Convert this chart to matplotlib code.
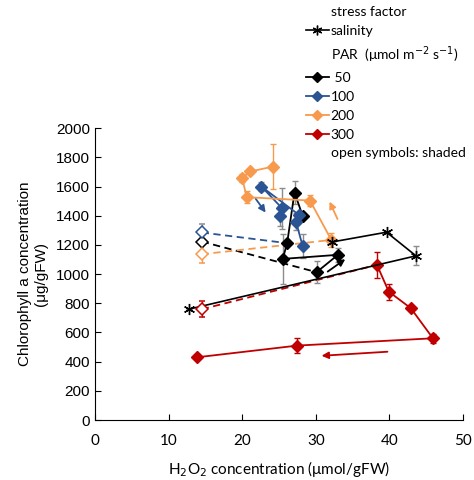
import matplotlib.pyplot as plt
from matplotlib.lines import Line2D
import numpy as np

# salinity (black, asterisk markers)
sal_x = [32.2, 39.6, 43.6, 12.8]
sal_y = [1220, 1287, 1125, 760]
sal_err = [0, 0, 65, 0]

# PAR 50 (black)
p50_x = [28.2, 27.1, 26.1, 25.5, 33.0, 30.1]
p50_y = [1400, 1559, 1212, 1104, 1132, 1013]
p50_err = [0, 80, 0, 170, 50, 75]
p50_open = (14.5, 1223, 0)

# PAR 100 (blue)
p100_x = [25.1, 25.4, 22.6, 27.7, 27.3, 28.2]
p100_y = [1399, 1452, 1600, 1406, 1360, 1193]
p100_err = [70, 140, 30, 0, 60, 80]
p100_open = (14.5, 1285, 55)
p100_dash_end = (26.1, 1212)

# PAR 200 (orange)
p200_x = [24.2, 21.1, 20.0, 20.6, 29.2, 32.1]
p200_y = [1737, 1703, 1658, 1527, 1504, 1234]
p200_err = [155, 0, 30, 40, 40, 50]
p200_open = (14.5, 1136, 60)

# PAR 300 (red)
p300_x = [38.3, 39.9, 42.9, 45.9, 27.5, 13.9]
p300_y = [1063, 880, 766, 560, 510, 430]
p300_err = [90, 55, 0, 30, 50, 0]
p300_open = (14.5, 759, 55)

# arrows: (x_start, y_start, x_end, y_end)
arrows = {
    'black': (31.3, 1006, 34.3, 1113),
    'blue': (21.6, 1532, 23.4, 1406),
    'orange': (33.1, 1360, 31.7, 1514),
    'red': (40.1, 469, 30.4, 439),
}

c_black = '#000000'
c_blue = '#2A5494'
c_orange = '#F79A4E'
c_red = '#C00000'
c_grey = '#8C8C8C'

plt.rcParams['font.family'] = ['Liberation Sans', 'DejaVu Sans']

fig = plt.figure(figsize=(4.74, 4.8), dpi=100)
ax = fig.add_axes([0.2004, 0.125, 0.7766, 0.608])


def draw_series(xs, ys, errs, color, ecolor, open_pt, dash_end=None):
    ax.errorbar(xs, ys, yerr=errs, color=color, ecolor=ecolor, marker='D',
                ms=6, lw=1.3, capsize=2.5, elinewidth=1, zorder=3)
    ox, oy, oe = open_pt
    ex, ey = dash_end if dash_end else (xs[-1], ys[-1])
    if open_pt is p300_open:
        ex, ey = xs[0], ys[0]
    ax.plot([ox, ex], [oy, ey], ls=(0, (4, 2.5)), color=color, lw=1.3, zorder=2)
    ax.errorbar([ox], [oy], yerr=[oe], color=color, ecolor=ecolor, marker='D',
                ms=6, mfc='white', mec=color, mew=1.1, capsize=2.5,
                elinewidth=1, ls='none', zorder=4)


draw_series(p50_x, p50_y, p50_err, c_black, c_grey, p50_open)
draw_series(p100_x, p100_y, p100_err, c_blue, c_grey, p100_open, p100_dash_end)
draw_series(p200_x, p200_y, p200_err, c_orange, c_orange, p200_open)
draw_series(p300_x, p300_y, p300_err, c_red, c_red, p300_open)

ax.errorbar(sal_x, sal_y, yerr=sal_err, color=c_black, ecolor=c_grey,
            marker=(6, 2, 0), ms=8, mew=1.0, lw=1.2, capsize=2.5,
            elinewidth=1, zorder=3)

for name, (x0, y0, x1, y1) in arrows.items():
    col = {'black': c_black, 'blue': c_blue, 'orange': c_orange, 'red': c_red}[name]
    ax.annotate('', xy=(x1, y1), xytext=(x0, y0),
                arrowprops=dict(arrowstyle='-|>', color=col, lw=1.3,
                                mutation_scale=10))

ax.set_xlim(0, 50)
ax.set_ylim(0, 2000)
ax.set_xticks(np.arange(0, 51, 10))
ax.set_yticks(np.arange(0, 2001, 200))
ax.spines['top'].set_visible(False)
ax.spines['right'].set_visible(False)
ax.tick_params(direction='in', length=4, labelsize=11)
ax.tick_params(axis='x', pad=10)
for lab in ax.get_xticklabels():
    lab.set_family(['Lato', 'DejaVu Sans'])
ax.set_xlabel('H$_2$O$_2$ concentration (\u03bcmol/gFW)', fontsize=11,
              family=['Lato', 'DejaVu Sans'], labelpad=8)
ax.set_ylabel('Chlorophyll a concentration\n(\u03bcg/gFW)', fontsize=11,
              labelpad=6)

handles = [
    Line2D([], [], ls='none'),
    Line2D([], [], color=c_black, marker=(6, 2, 0), ms=7, mew=1.0, lw=1.2),
    Line2D([], [], ls='none'),
    Line2D([], [], color=c_black, marker='D', ms=5, lw=1.3),
    Line2D([], [], color=c_blue, marker='D', ms=5, lw=1.3),
    Line2D([], [], color=c_orange, marker='D', ms=5, lw=1.3),
    Line2D([], [], color=c_red, marker='D', ms=5, lw=1.3),
    Line2D([], [], ls='none'),
]
labels = ['stress factor', 'salinity', 'PAR  (\u03bcmol m$^{-2}$ s$^{-1}$)',
          ' 50', '100', '200', '300', 'open symbols: shaded']
leg = fig.legend(handles, labels, loc='upper left', bbox_to_anchor=(0.62, 1.013),
                 frameon=False, handlelength=1.6, handletextpad=0.15,
                 labelspacing=0.5, prop={'family': ['Lato', 'DejaVu Sans'], 'size': 10})

fig.savefig('out.png', dpi=100)
